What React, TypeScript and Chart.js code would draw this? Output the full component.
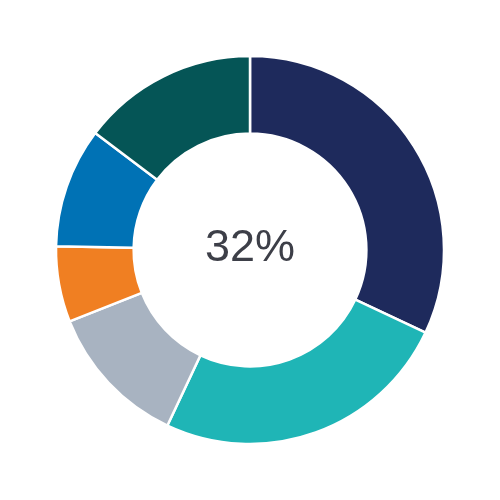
import React, { useEffect, useRef } from 'react';
import Chart from 'chart.js/auto';

const labels = ['A', 'B', 'C', 'D', 'E', 'F'];
const values = [32, 25, 12, 6.3, 10, 14.7];
const colors = ['#1e2a5c', '#1fb5b6', '#a8b3c1', '#f07f22', '#0072b5', '#055556'];
const centerLabel = '32%';

const App: React.FC = () => {
  const chartRef = useRef<HTMLCanvasElement>(null);
  const chartInstance = useRef<Chart | null>(null);

  useEffect(() => {
    document.body.style.margin = '0';
    if (!chartRef.current) return;

    if (chartInstance.current) {
      chartInstance.current.destroy();
    }

    const ctx = chartRef.current.getContext('2d');
    if (ctx) {
      chartInstance.current = new Chart(ctx, {
        type: 'doughnut',
        data: {
          labels,
          datasets: [
            {
              data: values,
              backgroundColor: colors,
              borderColor: '#ffffff',
              borderWidth: 2.5,
              radius: 194,
            },
          ],
        },
        options: {
          responsive: true,
          maintainAspectRatio: false,
          animation: false,
          cutout: '60%',
          plugins: {
            legend: { display: false },
            tooltip: { enabled: false },
          },
        },
      });
    }

    return () => {
      if (chartInstance.current) {
        chartInstance.current.destroy();
        chartInstance.current = null;
      }
    };
  }, []);

  return (
    <div style={{ position: 'relative', width: 500, height: 500, background: '#fff' }}>
      <canvas ref={chartRef}></canvas>
      <div
        style={{
          position: 'absolute',
          left: 0,
          top: 0,
          width: 500,
          height: 500,
          display: 'flex',
          alignItems: 'center',
          justifyContent: 'center',
          fontFamily: '"Liberation Sans", Arial, sans-serif',
          fontSize: 45,
          color: '#3d3f48',
          pointerEvents: 'none',
          paddingBottom: 8,
          boxSizing: 'border-box',
        }}
      >
        {centerLabel}
      </div>
    </div>
  );
};

export default App;
